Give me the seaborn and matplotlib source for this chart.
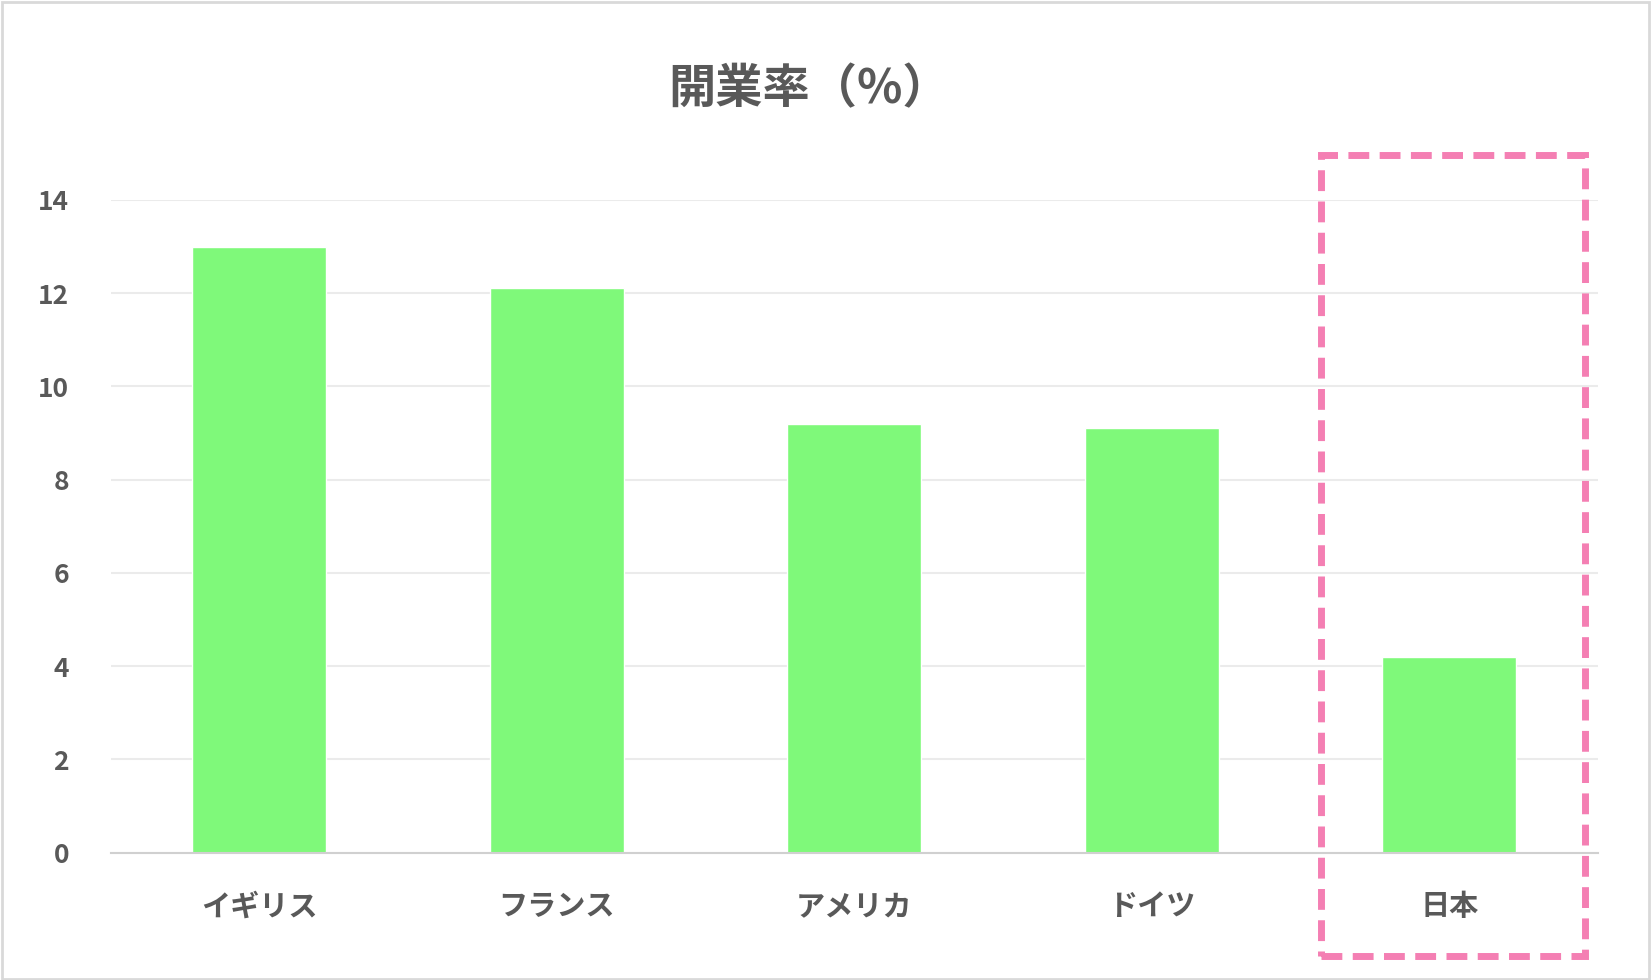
import matplotlib
matplotlib.use("Agg")
import matplotlib.pyplot as plt
import seaborn as sns
import pandas as pd
from matplotlib.patches import Rectangle

countries = ["イギリス", "フランス", "アメリカ", "ドイツ", "日本"]
rates = [13.0, 12.1, 9.2, 9.1, 4.2]
yticks = [0, 2, 4, 6, 8, 10, 12, 14]

sns.set_theme(style="white")
plt.rcParams['font.family'] = ['Noto Sans CJK JP', 'DejaVu Sans']

df = pd.DataFrame({"country": countries, "rate": rates})
fig = plt.figure(figsize=(16.51, 9.8), dpi=100)
ax = fig.add_axes([0.067, 0.13, 0.901, 0.666])
sns.barplot(data=df, x="country", y="rate", color="#7FF97A", saturation=1, width=0.45, ax=ax)
ax.set_ylim(0, 14)
ax.set_xlim(-0.5, 4.5)
ax.set_yticks(yticks)
ax.yaxis.grid(True, color="#EBEBEB", lw=1.5)
ax.set_axisbelow(True)
for s in ["top", "right", "left"]:
    ax.spines[s].set_visible(False)
ax.spines["bottom"].set_color("#D0D0D0")
ax.spines["bottom"].set_linewidth(1.5)
ax.set_xlabel("")
ax.set_ylabel("")
ax.tick_params(axis="x", length=0, pad=28, labelsize=21, labelcolor="#595959")
ax.tick_params(axis="y", length=0, pad=30, labelsize=19, labelcolor="#595959")
for t in ax.get_xticklabels() + ax.get_yticklabels():
    t.set_fontweight("bold")
fig.text(0.49, 0.909, "開業率（%）", ha="center", va="center", fontsize=34,
         fontweight="bold", color="#595959")
fig.patches.append(Rectangle((1255/1568, 1-908/931), 250/1568, 761/931, transform=fig.transFigure,
                             fill=False, edgecolor="#F47FB3", lw=5, linestyle=(0, (3, 1.5))))
fig.patches.append(Rectangle((0.001, 0.001), 0.998, 0.997, transform=fig.transFigure,
                             fill=False, edgecolor="#D9D9D9", lw=2))
fig.savefig("out.png", dpi=100, facecolor="white")
